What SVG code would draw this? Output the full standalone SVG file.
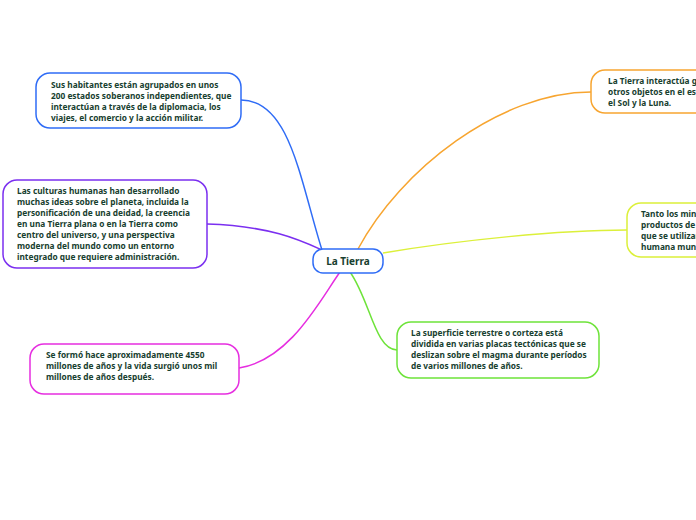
<svg xmlns="http://www.w3.org/2000/svg" width="696" height="520" viewBox="0 0 696 520">
<style>
text{font-family:"Noto Sans","Open Sans",sans-serif;font-weight:bold;font-size:8.3px;fill:#17402f}
.b{fill:#fff;stroke-width:1.5}
.c{fill:none;stroke-width:1.5}
</style>
<rect width="696" height="520" fill="#fff"/>
<g id="connectors">
<path class="c" stroke="#2f6cf6" d="M241,100 C290,100 300,180 322,250"/>
<path class="c" stroke="#7b2ff0" d="M207,224 C270,226 300,240 322,250"/>
<path class="c" stroke="#e62ee0" d="M239,368 C290,360 320,300 340,272"/>
<path class="c" stroke="#6ee33a" d="M350,272 C370,300 375,350 397,350"/>
<path class="c" stroke="#f7a530" d="M358,249 C400,170 500,92 591,92"/>
<path class="c" stroke="#dcf03a" d="M383,253 C460,240 560,230 627,230"/>
</g>
<g id="center"><rect class="b" stroke="#2f6cf6" x="313" y="249" width="70" height="24" rx="10"/><text x="348" y="265" text-anchor="middle" style="font-size:10px">La Tierra</text></g>
<g id="n1"><rect class="b" stroke="#2f6cf6" x="36" y="73" width="205" height="55" rx="14"/>
<text x="51" y="88">Sus habitantes están agrupados en unos</text><text x="51" y="99">200 estados soberanos independientes, que</text><text x="51" y="110">interactúan a través de la diplomacia, los</text><text x="51" y="121">viajes, el comercio y la acción militar.</text></g>
<g id="n2"><rect class="b" stroke="#7b2ff0" x="3" y="180" width="204" height="88" rx="14"/>
<text x="17" y="194">Las culturas humanas han desarrollado</text><text x="17" y="205">muchas ideas sobre el planeta, incluida la</text><text x="17" y="216">personificación de una deidad, la creencia</text><text x="17" y="227">en una Tierra plana o en la Tierra como</text><text x="17" y="238">centro del universo, y una perspectiva</text><text x="17" y="249">moderna del mundo como un entorno</text><text x="17" y="260">integrado que requiere administración.</text></g>
<g id="n3"><rect class="b" stroke="#e62ee0" x="30" y="344" width="209" height="50" rx="14"/>
<text x="46" y="358">Se formó hace aproximadamente 4550</text><text x="46" y="369">millones de años y la vida surgió unos mil</text><text x="46" y="380">millones de años después.</text></g>
<g id="n4"><rect class="b" stroke="#6ee33a" x="397" y="322" width="202" height="56" rx="14"/>
<text x="411" y="336">La superficie terrestre o corteza está</text><text x="411" y="347">dividida en varias placas tectónicas que se</text><text x="411" y="358">deslizan sobre el magma durante períodos</text><text x="411" y="369">de varios millones de años.</text></g>
<g id="n5"><rect class="b" stroke="#f7a530" x="591" y="70" width="130" height="43" rx="14"/>
<text x="608" y="84">La Tierra interactúa gr</text><text x="608" y="95">otros objetos en el esp</text><text x="608" y="106">el Sol y la Luna.</text></g>
<g id="n6"><rect class="b" stroke="#dcf03a" x="627" y="203" width="100" height="54" rx="14"/>
<text x="641" y="217">Tanto los min</text><text x="641" y="228">productos de l</text><text x="641" y="239">que se utilizan</text><text x="641" y="250">humana mun</text></g>
</svg>
